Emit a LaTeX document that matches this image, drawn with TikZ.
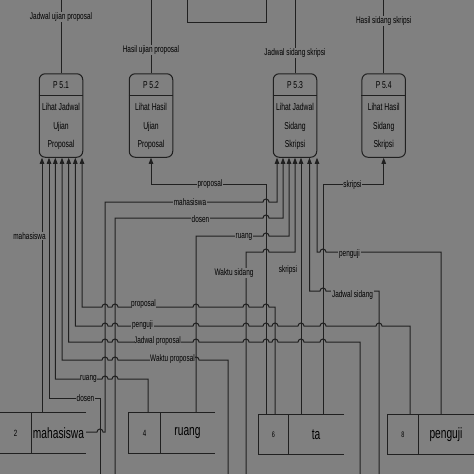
\documentclass[tikz,border=0pt]{standalone}
\usepackage{fontspec}
\newfontfamily\dfdfont[FakeStretch=0.68]{Liberation Sans}
\definecolor{sheet}{RGB}{128, 128, 128}
\definecolor{ink}{RGB}{32, 32, 32}
\usetikzlibrary{arrows.meta, calc}
\tikzset{
    wire/.style={draw=ink, line width=1pt},
    flow/.style={wire, -{Triangle[length=6pt, width=4.4pt]}},
    flowlabel/.style={fill=sheet, inner sep=0.6pt, text=black,
        font=\dfdfont\fontsize{9.5}{10}\selectfont},
    process/.style={wire, rounded corners=6pt, minimum width=43.5pt,
        minimum height=83.5pt, inner sep=0pt},
    proctext/.style={align=center, text=black, inner sep=0pt,
        font=\dfdfont\fontsize{10}{18.5}\selectfont},
    storename/.style={minimum width=55pt, minimum height=40pt, inner sep=0pt,
        text=black, font=\dfdfont\fontsize{15}{16}\selectfont},
    storeid/.style={minimum width=31pt, minimum height=40pt, inner sep=0pt,
        text=black, font=\dfdfont\fontsize{9}{10}\selectfont},
}
\begin{document}
\begin{tikzpicture}[x=1pt, y=-1pt]
    \useasboundingbox (0, 0) rectangle (474, 474);
    \fill[sheet] (0, 0) rectangle (474, 474);
    \clip (0, 0) rectangle (474, 474);

    % processes
    \foreach \pname/\cx/\pid/\ptxt in {p51/61/P 5.1/{Lihat Jadwal\\Ujian\\Proposal},
            p52/151/P 5.2/{Lihat Hasil\\Ujian\\Proposal},
            p53/295/P 5.3/{Lihat Jadwal\\Sidang\\Skripsi},
            p54/383.7/P 5.4/{Lihat Hasil\\Sidang\\Skripsi}}{
        \node[process] (\pname) at (\cx, 115.5) {};
        \draw[wire] (\pname.west |- 0, 95.3) -- (\pname.east |- 0, 95.3);
        \node[proctext] (\pname-id) at (\cx, 85) {\pid};
        \node[proctext] (\pname-txt) at (\cx, 126.5) {\ptxt};
    }

    % entity at the top
    \node[wire, minimum width=79pt, minimum height=44pt, inner sep=0pt]
        (ext) at (226.5, 0) {};

    % data stores
    \node[storeid] (s2-id) at (15.5, 433) {2};
    \node[storename] (s2) at (58.5, 433) {mahasiswa};
    \node[storeid] (s4-id) at (144.5, 433) {4};
    \node[storename] (s4) at (187.5, 433) {ruang};
    \node[storeid, minimum width=29pt, minimum height=39pt,
        font=\dfdfont\fontsize{8}{9}\selectfont] (s6-id) at (273.5, 434.5) {6};
    \node[storename, minimum width=56pt, minimum height=39pt] (s6) at (316, 434.5) {ta};
    \node[storeid, minimum width=30pt, minimum height=39pt,
        font=\dfdfont\fontsize{8}{9}\selectfont] (s8-id) at (403, 434.5) {8};
    \node[storename, minimum width=56pt, minimum height=39pt] (s8) at (446, 434.5) {penguji};
    \foreach \s in {s2, s4, s6, s8}{
        \draw[wire] (\s.north east) -- (\s-id.north west) -- (\s-id.south west)
            -- (\s.south east);
        \draw[wire] (\s-id.north east) -- (\s-id.south east);
    }

    % flows going out at the top
    \draw[flow] (p51.north) -- (p51.north |- 0, -12);
    \draw[flow] (p52.north) -- (p52.north |- 0, -12);
    \draw[flow] (p53.north) -- (p53.north |- 0, -12);
    \draw[flow] (p54.north) -- (p54.north |- 0, -12);

    % flows into P 5.1
    \draw[flow] (42, 0 |- s2.north) -- (42, 0 |- p51.south);
    \draw[flow] (100, 480) -- (100, 398) -- (49, 398) -- (49, 0 |- p51.south);
    \draw[flow] (148, 0 |- s4.north) -- (148, 379)
        \foreach \h in {115, 105}{-- (\h+3, 379) arc[start angle=0, end angle=180, radius=3pt]}
        -- (55.3, 379) -- (55.3, 0 |- p51.south);
    \draw[flow] (228, 480) -- (228, 360)
        \foreach \h in {196, 115, 105}{-- (\h+3, 360) arc[start angle=0, end angle=180, radius=3pt]}
        -- (62, 360) -- (62, 0 |- p51.south);
    \draw[flow] (360, 480) -- (360, 342)
        \foreach \h in {323, 301, 275, 266, 246, 196, 115, 105}{
            -- (\h+3, 342) arc[start angle=0, end angle=180, radius=3pt]}
        -- (68.7, 342) -- (68.7, 0 |- p51.south);
    \draw[flow] (410, 0 |- s8.north) -- (410, 326)
        \foreach \h in {379, 323, 301, 275, 266, 246, 196, 115, 105}{
            -- (\h+3, 326) arc[start angle=0, end angle=180, radius=3pt]}
        -- (75.3, 326) -- (75.3, 0 |- p51.south);
    \draw[flow] (275, 0 |- s6.north) -- (275, 307)
        \foreach \h in {266, 246, 196, 115, 105}{
            -- (\h+3, 307) arc[start angle=0, end angle=180, radius=3pt]}
        -- (82, 307) -- (82, 0 |- p51.south);

    % flow into P 5.2
    \draw[flow] (266, 0 |- s6.north) -- (266, 184) -- (151, 184) -- (p52.south);

    % flows into P 5.3
    \draw[flow] (s2.east |- 0, 432)
        \foreach \h in {100}{-- (\h-3, 432) arc[start angle=180, end angle=0, radius=3pt]}
        -- (105, 432) -- (105, 202)
        \foreach \h in {266}{-- (\h-3, 202) arc[start angle=180, end angle=0, radius=3pt]}
        -- (277, 202) -- (277, 0 |- p53.south);
    \draw[flow] (115, 480) -- (115, 218)
        \foreach \h in {266}{-- (\h-3, 218) arc[start angle=180, end angle=0, radius=3pt]}
        -- (283, 218) -- (283, 0 |- p53.south);
    \draw[flow] (196, 0 |- s4.north) -- (196, 236)
        \foreach \h in {266}{-- (\h-3, 236) arc[start angle=180, end angle=0, radius=3pt]}
        -- (289, 236) -- (289, 0 |- p53.south);
    \draw[flow] (246, 480) -- (246, 252)
        \foreach \h in {266}{-- (\h-3, 252) arc[start angle=180, end angle=0, radius=3pt]}
        -- (295, 252) -- (p53.south);
    \draw[flow] (301, 0 |- s6.north) -- (301, 0 |- p53.south);
    \draw[flow] (379, 480) -- (379, 291)
        \foreach \h in {323}{-- (\h+3, 291) arc[start angle=0, end angle=180, radius=3pt]}
        -- (309.5, 291) -- (309.5, 0 |- p53.south);
    \draw[flow] (441, 0 |- s8.north) -- (441, 252)
        \foreach \h in {323}{-- (\h+3, 252) arc[start angle=0, end angle=180, radius=3pt]}
        -- (317, 252) -- (317, 0 |- p53.south);

    % flow into P 5.4
    \draw[flow] (323, 0 |- s6.north) -- (323, 184) -- (383.7, 184) -- (p54.south);

    % labels
    \node[flowlabel] (l-jup) at (61, 17) {Jadwal ujian proposal};
    \node[flowlabel] (l-hup) at (151, 50) {Hasil ujian proposal};
    \node[flowlabel] (l-jss) at (295, 53) {Jadwal sidang skripsi};
    \node[flowlabel] (l-hss) at (383.7, 21) {Hasil sidang skripsi};
    \node[flowlabel] (l-mhs1) at (29.5, 236) {mahasiswa};
    \node[flowlabel] (l-dsn1) at (85.5, 398) {dosen};
    \node[flowlabel] (l-rng1) at (88.5, 379) {ruang};
    \node[flowlabel] (l-wp) at (172.5, 359) {Waktu proposal};
    \node[flowlabel] (l-jp) at (157.5, 341) {Jadwal proposal};
    \node[flowlabel] (l-pgj1) at (142.5, 325) {penguji};
    \node[flowlabel] (l-prp1) at (143.5, 304) {proposal};
    \node[flowlabel] (l-prp2) at (210, 184) {proposal};
    \node[flowlabel] (l-mhs2) at (190, 202) {mahasiswa};
    \node[flowlabel] (l-dsn2) at (200.5, 219) {dosen};
    \node[flowlabel] (l-rng2) at (244, 237) {ruang};
    \node[flowlabel] (l-ws) at (234, 273) {Waktu sidang};
    \node[flowlabel] (l-skr1) at (288, 270) {skripsi};
    \node[flowlabel] (l-js) at (352.5, 295) {Jadwal sidang};
    \node[flowlabel] (l-pgj2) at (349.5, 254) {penguji};
    \node[flowlabel] (l-skr2) at (352.5, 185) {skripsi};
\end{tikzpicture}
\end{document}
